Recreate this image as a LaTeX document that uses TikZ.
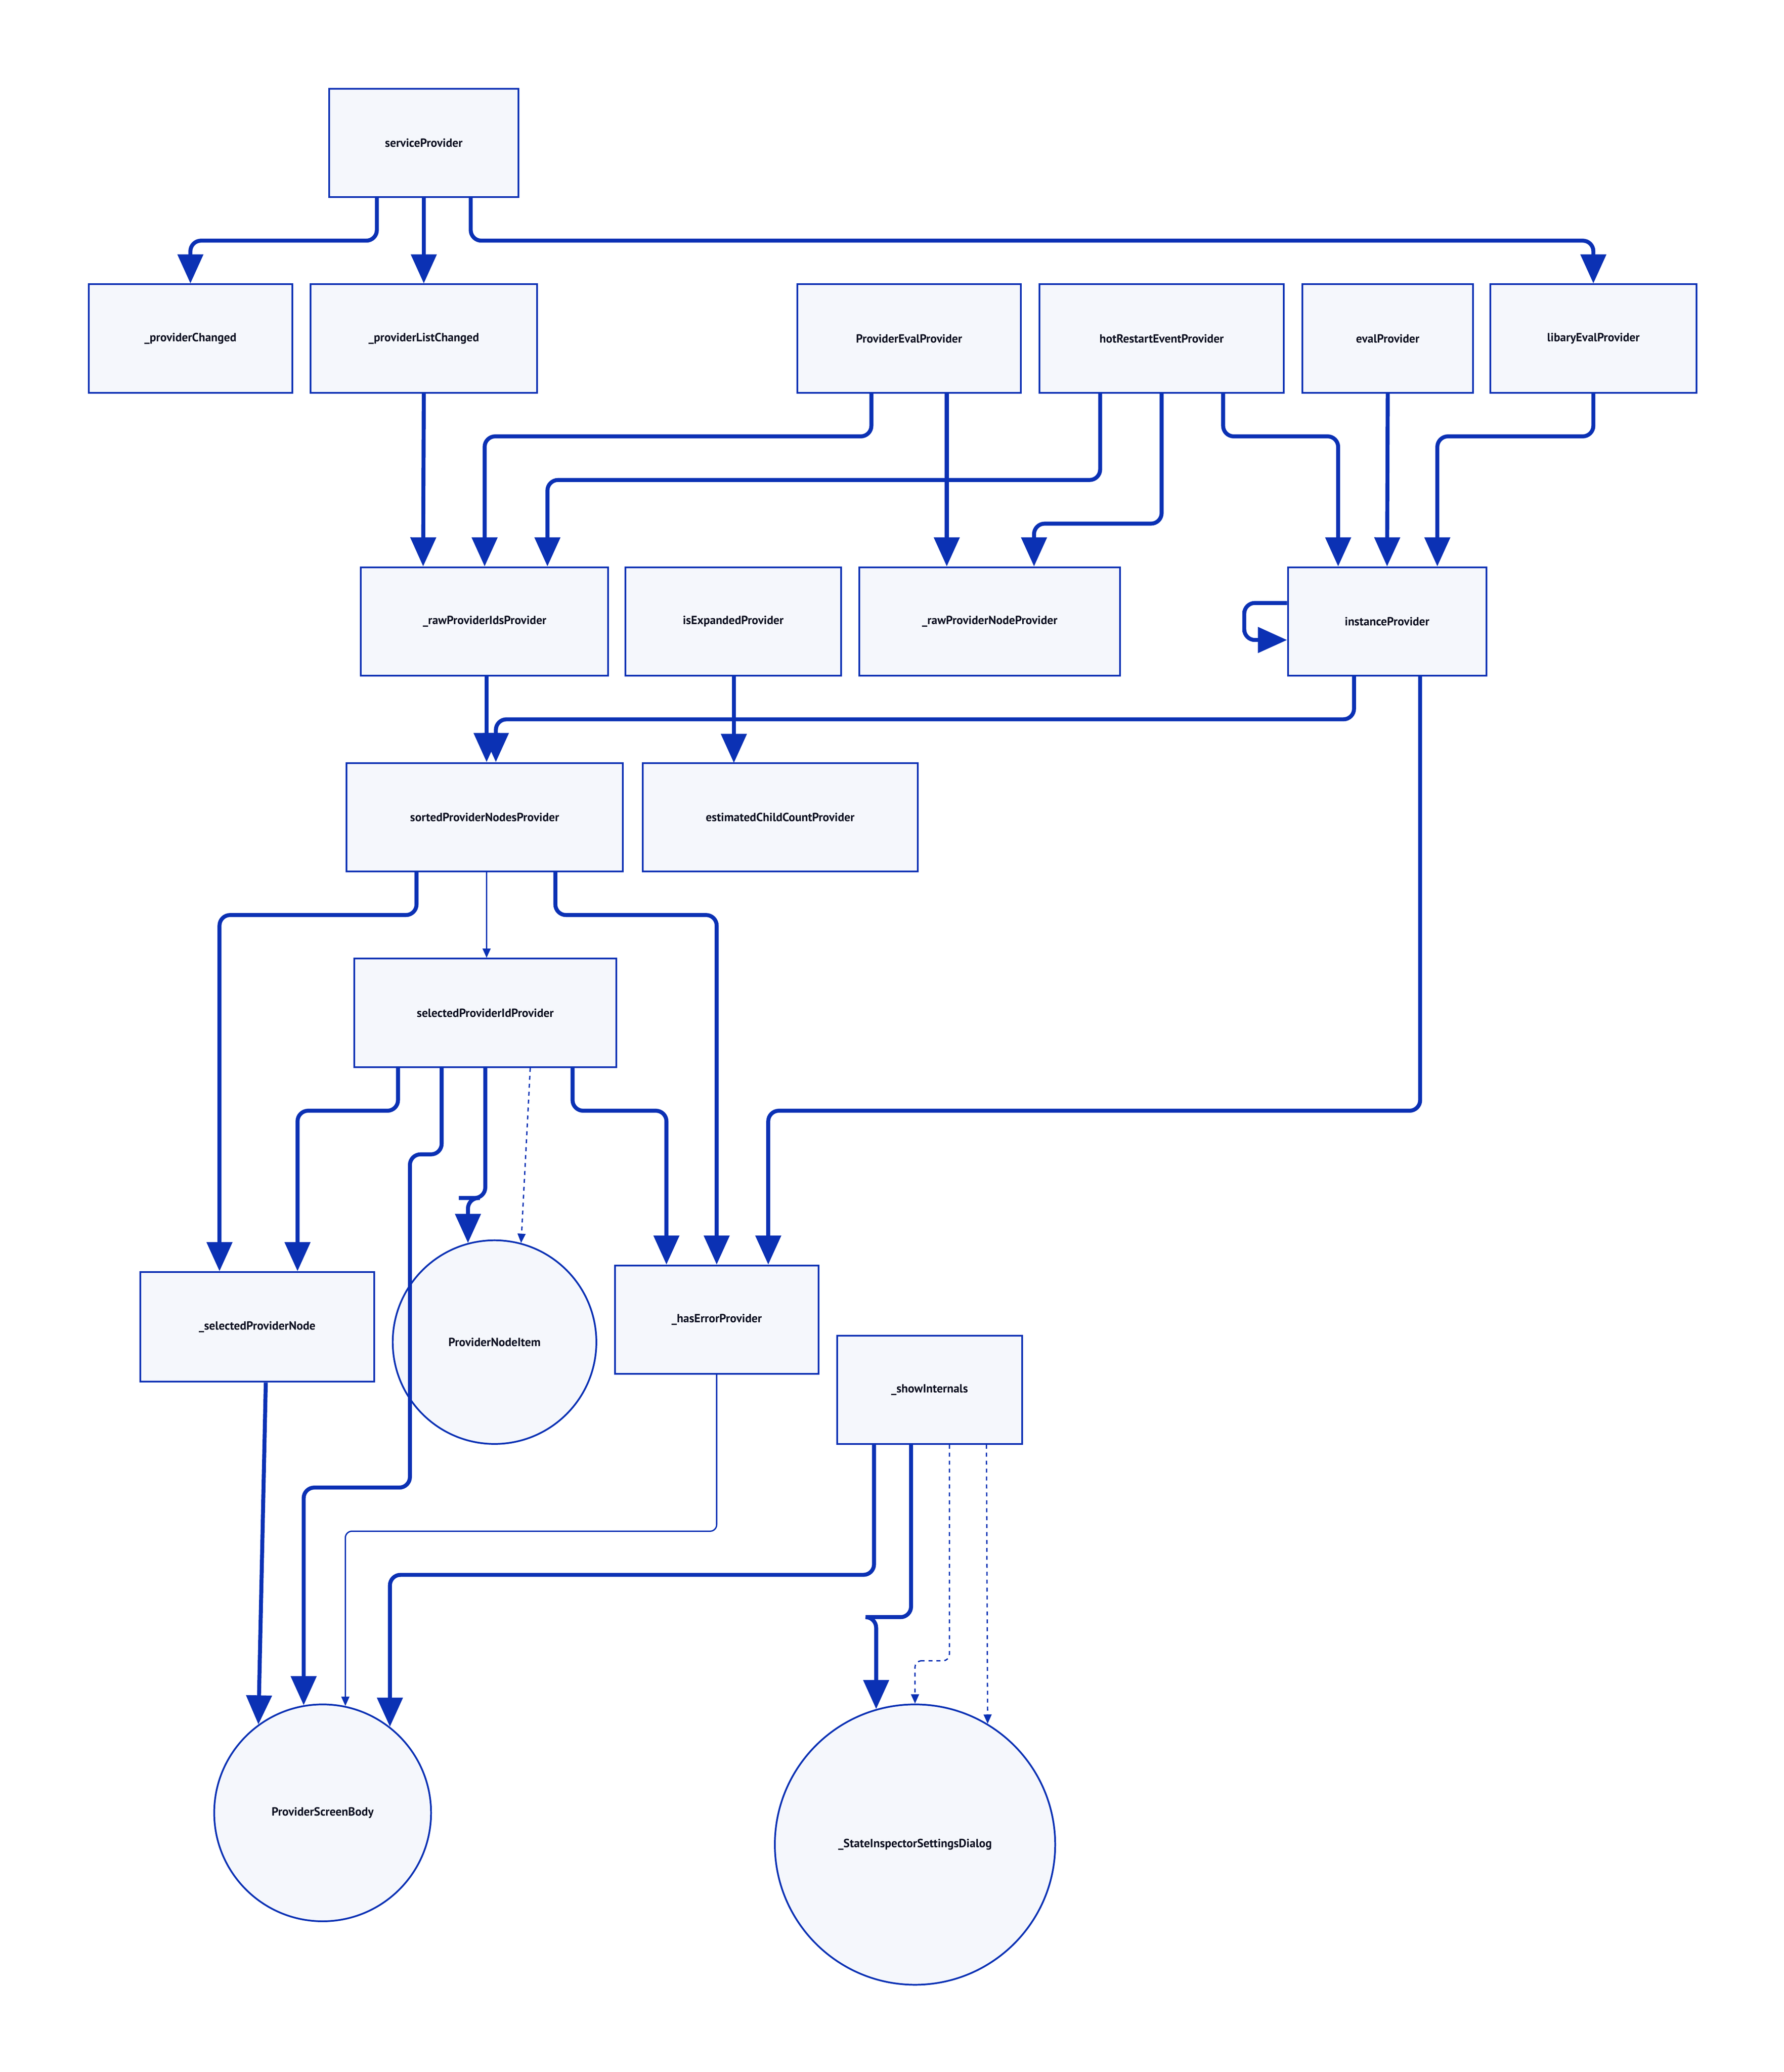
\documentclass[tikz,border=0pt]{standalone}
\usepackage{fontspec}
\setmainfont{PT Sans}
\usetikzlibrary{arrows.meta}
\definecolor{ln}{HTML}{0B31B4}
\definecolor{bx}{HTML}{F5F7FC}
\definecolor{tx}{HTML}{0D1021}
\tikzset{
 x=1pt,y=-1pt,
 box/.style={draw=ln,fill=bx,line width=1.3pt,inner sep=0pt,font=\bfseries\fontsize{9}{10}\selectfont,text=tx},
 circ/.style={draw=ln,fill=bx,line width=1.3pt,circle,inner sep=0pt,font=\bfseries\fontsize{9}{10}\selectfont,text=tx},
 e/.style={draw=ln,line width=3pt,rounded corners=8pt,-{Triangle[length=22pt,width=19pt]}},
 ethin/.style={draw=ln,line width=1pt,rounded corners=5pt,-{Triangle[length=7pt,width=6pt]}},
 edash/.style={ethin,dashed},
}
\newcommand{\bxn}[6]{\node[box,minimum width=#4-#2,minimum height=#5-#3] (#1) at ({(#2+#4)/2},{(#3+#5)/2}) {#6};}
\begin{document}
\begin{tikzpicture}
\useasboundingbox (0,0) rectangle (1349,1567);
\bxn{SP}{249}{67}{392}{149}{serviceProvider}
\bxn{PC}{67}{215}{221}{297}{\_providerChanged}
\bxn{PLC}{235}{215}{406}{297}{\_providerListChanged}
\bxn{PEP}{603}{215}{772}{297}{ProviderEvalProvider}
\bxn{HR}{786}{215}{971}{297}{hotRestartEventProvider}
\bxn{EP}{985}{215}{1114}{297}{evalProvider}
\bxn{LEP}{1127}{215}{1283}{297}{libaryEvalProvider}
\bxn{RI}{273}{429}{460}{511}{\_rawProviderIdsProvider}
\bxn{IE}{473}{429}{636}{511}{isExpandedProvider}
\bxn{RN}{650}{429}{847}{511}{\_rawProviderNodeProvider}
\bxn{IP}{974}{429}{1124}{511}{instanceProvider}
\bxn{SO}{262}{577}{471}{659}{sortedProviderNodesProvider}
\bxn{EC}{486}{577}{694}{659}{estimatedChildCountProvider}
\bxn{SI}{268}{725}{466}{807}{selectedProviderIdProvider}
\bxn{SN}{106}{962}{283}{1045}{\_selectedProviderNode}
\bxn{HE}{465}{957}{619}{1039}{\_hasErrorProvider}
\bxn{SH}{633}{1010}{773}{1092}{\_showInternals}
\node[circ,minimum size=154pt] (PNI) at (374,1015) {ProviderNodeItem};
\node[circ,minimum size=164pt] (PSB) at (244,1371) {ProviderScreenBody};
\node[circ,minimum size=212pt] (SD) at (692,1395) {\_StateInspectorSettingsDialog};
% edges
\draw[e] ([xshift=-35.5pt]SP.south) |- (200,182) -| (PC.north);
\draw[e] (SP.south) -- (PLC.north);
\draw[e] ([xshift=35.5pt]SP.south) |- (800,182) -| (LEP.north);
\draw[e] (PLC.south) -- ([xshift=-46.5pt]RI.north);
\draw[e] ([xshift=-28.5pt]PEP.south) |- (500,330) -| (RI.north);
\draw[e] ([xshift=28.5pt]PEP.south) -- ([xshift=-32.5pt]RN.north);
\draw[e] ([xshift=-46.5pt]HR.south) |- (600,363) -| ([xshift=47.5pt]RI.north);
\draw[e] (HR.south) |- (820,396) -| ([xshift=33.5pt]RN.north);
\draw[e] ([xshift=46.5pt]HR.south) |- (980,330) -| ([xshift=-37pt]IP.north);
\draw[e] (EP.south) -- (IP.north);
\draw[e] (LEP.south) |- (1150,330) -| ([xshift=38pt]IP.north);
\draw[e] ([yshift=14pt]IP.west) -| (941,470) |- ([yshift=-14pt]IP.west);
\draw[e] ([xshift=1.5pt]RI.south) -- ([xshift=1.5pt]RI.south |- SO.north);
\draw[e] ([xshift=0.5pt]IE.south) -- (555,577);
\draw[e] ([xshift=-25pt]IP.south) |- (800,544) -| ([xshift=-215pt]EC.north);
\draw[e] ([xshift=25pt]IP.south) |- (800,840) -| ([xshift=39pt]HE.north);
\draw[e] ([xshift=-51.5pt]SO.south) |- (200,692) -| ([xshift=-28.5pt]SN.north);
\draw[ethin] ([xshift=1.5pt]SO.south) -- ([xshift=1pt]SI.north);
\draw[e] ([xshift=53.5pt]SO.south) |- (500,692) -| (HE.north);
\draw[e] ([xshift=-66pt]SI.south) |- (260,840) -| ([xshift=30.5pt]SN.north);
\draw[e] ([xshift=-33pt]SI.south) |- (310,873) |- (260,1125) -| (PSB.100.5);
\draw[e] (SI.south) |- (355,906) -| (PNI.105);
\draw[edash] ([xshift=34pt]SI.south) -- (PNI.75);
\draw[e] ([xshift=66pt]SI.south) |- (480,840) -| ([xshift=-38pt]HE.north);
\draw[e] ([xshift=6.5pt]SN.south) -- (PSB.126.7);
\draw[ethin] (HE.south) |- (400,1158) -| (PSB.78);
\draw[e] ([xshift=-42pt]SH.south) |- (400,1191) -| (PSB.52.4);
\draw[e] ([xshift=-14pt]SH.south) |- (660,1223) -| (SD.106.5);
\draw[edash] ([xshift=15pt]SH.south) |- (700,1256) -| (SD.90);
\draw[edash] ([xshift=43pt]SH.south) -- (SD.59.7);
\end{tikzpicture}
\end{document}
